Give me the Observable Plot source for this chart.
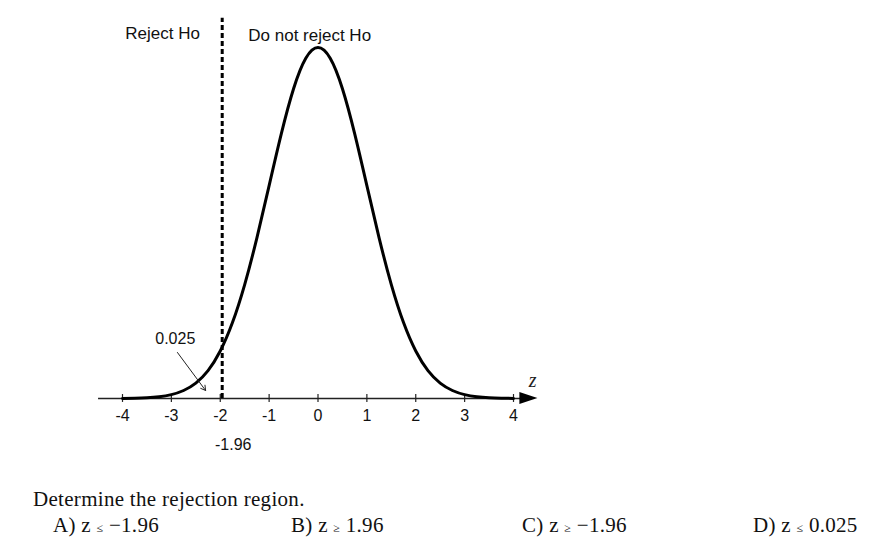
<!DOCTYPE html>
<html>
<head>
<meta charset="utf-8">
<script src="https://cdn.jsdelivr.net/npm/d3@7"></script>
<script src="https://cdn.jsdelivr.net/npm/@observablehq/plot@0.6"></script>
<style>
  html, body { margin: 0; padding: 0; background: #fff; }
  #wrap { position: relative; width: 875px; height: 546px; overflow: hidden; background: #fff; }
  #chart { position: absolute; left: 0; top: 0; }
  .q { position: absolute; font-family: "Liberation Serif", serif; font-size: 21px; line-height: 20px; color: #111; white-space: nowrap; letter-spacing: 0.3px; }
  .sym { font-size: 12px; }
</style>
</head>
<body>
<div id="wrap">
  <div id="chart"></div>
  <div class="q" style="left:33px; top:489px;">Determine the rejection region.</div>
  <div class="q" style="left:53px; top:515px;">A) z <span class="sym">≤</span> −1.96</div>
  <div class="q" style="left:291px; top:515px;">B) z <span class="sym">≥</span> 1.96</div>
  <div class="q" style="left:522px; top:515px;">C) z <span class="sym">≥</span> −1.96</div>
  <div class="q" style="left:753px; top:515px;">D) z <span class="sym">≤</span> 0.025</div>
</div>
<script>
// z positions and curve heights
const zValues = [-4, -3.75, -3.5, -3.25, -3, -2.75, -2.5, -2.25, -2, -1.75, -1.5, -1.25, -1, -0.75, -0.5, -0.25,
                 0, 0.25, 0.5, 0.75, 1, 1.25, 1.5, 1.75, 2, 2.25, 2.5, 2.75, 3, 3.25, 3.5, 3.75, 4];
const density = [0.0001, 0.0004, 0.0009, 0.002, 0.0044, 0.0091, 0.0175, 0.0317, 0.054, 0.0863, 0.1295, 0.1826,
                 0.242, 0.3011, 0.3521, 0.3867, 0.3989, 0.3867, 0.3521, 0.3011, 0.242, 0.1826, 0.1295, 0.0863,
                 0.054, 0.0317, 0.0175, 0.0091, 0.0044, 0.002, 0.0009, 0.0004, 0.0001];
const tickValues = [-4, -3, -2, -1, 0, 1, 2, 3, 4];
const tickLabels = ["-4", "-3", "-2", "-1", "0", "1", "2", "3", "4"];
const criticalValue = -1.96;
const criticalLabel = "-1.96";
const alphaLabel = "0.025";
const regionLabels = ["Reject Ho", "Do not reject Ho"];
const axisLabel = "z";

const curve = zValues.map((z, i) => ({z, d: density[i]}));
const ticks = tickValues.map((z, i) => ({z, label: tickLabels[i], lo: -0.0045, hi: 0.0045}));

const sans = "Liberation Sans, Arial, sans-serif";

const chart = Plot.plot({
  width: 875,
  height: 470,
  x: {domain: [-4, 4], range: [122, 513], axis: null},
  y: {domain: [0, 0.3989], range: [398, 47], axis: null},
  style: {background: "#fff", fontFamily: sans, fontSize: "16px", overflow: "visible"},
  marks: [
    // axis line
    Plot.ruleY([{y: 0, a: -4.49, b: 4.2}], {y: "y", x1: "a", x2: "b", stroke: "#222", strokeWidth: 1.3}),
    // arrowhead of the axis
    Plot.areaY([{x: 4.13, y1: -0.0068, y2: 0.0068}, {x: 4.5, y1: 0, y2: 0}],
      {x: "x", y1: "y1", y2: "y2", fill: "#000"}),
    // ticks
    Plot.ruleX(ticks, {x: "z", y1: "lo", y2: "hi", stroke: "#222", strokeWidth: 1.2}),
    Plot.text(ticks, {x: "z", y: () => 0, dy: 17, text: "label", fill: "#111", fontFamily: sans, fontSize: 16}),
    // critical value line
    Plot.ruleX([{x: criticalValue, lo: 0, hi: 0.432}], {x: "x", y1: "lo", y2: "hi", stroke: "#000", strokeWidth: 3, strokeDasharray: "5,3"}),
    Plot.text([{x: criticalValue, y: 0, t: criticalLabel}], {x: "x", y: "y", dy: 46, dx: 11, text: "t", fill: "#111", fontFamily: sans, fontSize: 16}),
    // normal curve
    Plot.line(curve, {x: "z", y: "d", curve: "natural", stroke: "#000", strokeWidth: 3}),
    // region labels
    Plot.text([{x: -3.18, y: 0.415, t: regionLabels[0]}, {x: -0.17, y: 0.412, t: regionLabels[1]}],
      {x: "x", y: "y", text: "t", fill: "#111", fontFamily: sans, fontSize: 17}),
    // alpha label with arrow
    Plot.text([{x: -2.92, y: 0.068, t: alphaLabel}], {x: "x", y: "y", text: "t", fill: "#111", fontFamily: sans, fontSize: 16}),
    Plot.arrow([{x1: -2.876, y1: 0.0523, x2: -2.3, y2: 0.0091}], {x1: "x1", y1: "y1", x2: "x2", y2: "y2", stroke: "#222", strokeWidth: 1, headLength: 8}),
    // axis name
    Plot.text([{x: 4.39, y: 0.02, t: axisLabel}], {x: "x", y: "y", text: "t", fill: "#222", fontFamily: "Liberation Serif, serif", fontStyle: "italic", fontSize: 20})
  ]
});
document.getElementById("chart").appendChild(chart);
</script>
</body>
</html>
